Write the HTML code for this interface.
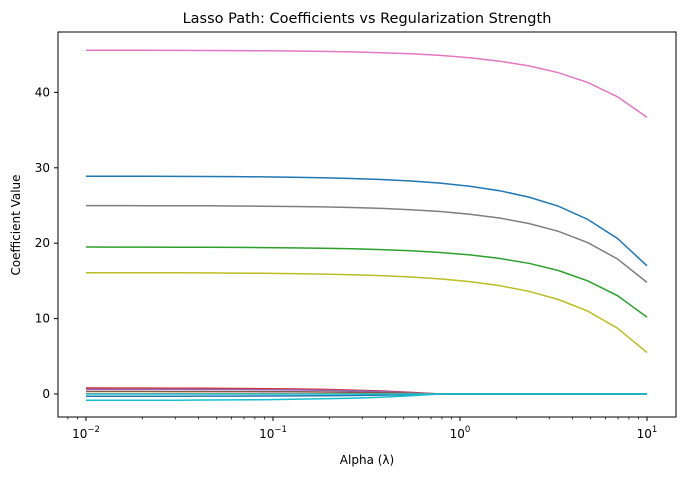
<!DOCTYPE html>
<html><head><style>
body{margin:0;background:#fff;font-family:"Liberation Sans","DejaVu Sans",sans-serif}
svg text{font-family:"DejaVu Sans","Liberation Sans",sans-serif;font-size:12px;fill:#000}
</style></head><body>
<svg id="s" width="686" height="475" xmlns="http://www.w3.org/2000/svg">
<rect width="686" height="475" fill="#fff"/>
<text x="367" y="23" text-anchor="middle" style="font-size:14.5px">Lasso Path: Coefficients vs Regularization Strength</text>
<g id="lines"></g>
<rect x="58" y="32" width="618" height="385" fill="none" stroke="#000" stroke-width="1"/>
<g id="ticks"></g>
<text x="367" y="464" text-anchor="middle">Alpha (λ)</text>
<text transform="translate(20,225) rotate(-90)" text-anchor="middle">Coefficient Value</text>
</svg>
<script>
const X=a=>86+187*(Math.log10(a)+2), Y=v=>394-7.54*v;
const as=[];for(let i=0;i<20;i++)as.push(Math.pow(10,-2+3*i/19));
let h='';
function line(f,c){h+=`<polyline fill="none" stroke="${c}" stroke-width="1.5" points="${as.map(a=>X(a).toFixed(1)+','+Y(f(a)).toFixed(1)).join(' ')}"/>`;}
const small=[[0.8,'#d62728'],[0.65,'#9467bd'],[0.35,'#8c564b'],[0.05,'#ff7f0e'],[-0.3,'#1f77b4'],[-0.85,'#17becf']];
small.forEach(([v,c])=>line(a=>v*Math.max(0,1-a/0.75),c));
line(a=>16.1-1.06*a,'#bcbd22');
line(a=>19.5-0.93*a,'#2ca02c');
line(a=>25-1.02*a,'#7f7f7f');
line(a=>28.9-1.19*a,'#1f77b4');
line(a=>45.6-0.89*a,'#e377c2');
line(a=>0,'#17becf');
document.getElementById('lines').innerHTML=h;
let t='';
[0,10,20,30,40].forEach(v=>{const y=Y(v);t+=`<line x1="54" x2="58" y1="${y}" y2="${y}" stroke="#000"/><text x="50" y="${y+4}" text-anchor="end">${v}</text>`;});
for(let e=-3;e<=1;e++)for(let m=1;m<10;m++){const x=X(m*Math.pow(10,e));if(x<58||x>676)continue;
 if(m==1){t+=`<line x1="${x}" x2="${x}" y1="417" y2="421" stroke="#000"/><text x="${x}" y="438" text-anchor="middle">10<tspan dy="-6" style="font-size:8.5px">${e<0?'−'+(-e):e}</tspan></text>`;}
 else t+=`<line x1="${x}" x2="${x}" y1="417" y2="419.5" stroke="#000" stroke-width="0.7"/>`;}
document.getElementById('ticks').innerHTML=t;
</script>
</body></html>
